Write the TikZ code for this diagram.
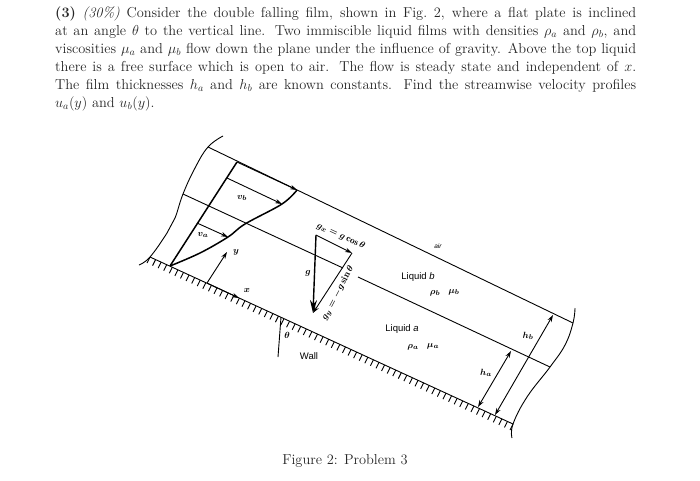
\documentclass[tikz,border=0pt]{standalone}
\usepackage{amsmath}
\usepackage{amssymb}
\usepackage{fontspec}
\usetikzlibrary{calc,arrows.meta}
\newfontfamily\figfont{Liberation Sans}
\tikzset{
  film/.style={line width=.9pt},
  thick film/.style={line width=1.5pt},
  vel/.style={line width=.9pt,-{Stealth[length=7pt,width=4.5pt]}},
  thick vel/.style={line width=1.4pt,-{Stealth[length=13pt,width=7pt]}},
  both vel/.style={line width=.9pt,{Stealth[length=7pt,width=4.5pt]}-{Stealth[length=7pt,width=4.5pt]}},
  lab/.style={font=\figfont\fontsize{9.5}{10}\selectfont,inner sep=0pt},
  greek/.style={font=\fontsize{9.5}{10}\selectfont\boldmath,inner sep=0pt},
}
\begin{document}
\begin{tikzpicture}[x=1pt,y=-1pt]
          \useasboundingbox (0,0) rectangle (700,480);
          \node[anchor=north west,inner sep=0pt,text width=581pt,align=justify,font=\fontsize{14.4}{18}\selectfont,text=black!85] (problem) at (55,6.5)
            {\textbf{(3)} \textit{(30\%)} Consider the double falling film, shown in Fig.~2, where a flat plate is inclined\linebreak
             at an angle $\theta$ to the vertical line. Two immiscible liquid films with densities $\rho_a$ and $\rho_b$, and\linebreak
             viscosities $\mu_a$ and $\mu_b$ flow down the plane under the influence of gravity. Above the top liquid\linebreak
             there is a free surface which is open to air. The flow is steady state and independent of $x$.\linebreak
             The film thicknesses $h_a$ and $h_b$ are known constants. Find the streamwise velocity profiles\linebreak
             $u_a(y)$ and $u_b(y)$.};

          \coordinate (wallA) at (150,257);
          \coordinate (wallB) at (513,424);
          \coordinate (topA) at (208,147);
          \coordinate (topB) at (573,323);
          \coordinate (midA) at (183,194);
          \coordinate (midB) at (343,268);
          \coordinate (midC) at (358,277);
          \coordinate (midD) at (550,367);

          % plate, films and cut ends
          \draw[film] (wallA) -- (wallB);
          \foreach \i in {0,...,65}
            \draw[line width=.9pt] ($(wallA)!\i/65!(wallB)$) -- ++(-3,6);
          \draw[film] (topA) -- (topB);
          \draw[film] (midA) -- (midB);
          \draw[film] (midC) -- (midD);
          \draw[film] plot[smooth,tension=.7] coordinates {(223,136) (208,147) (195,168) (183,194) (175,218) (167,233) (150,257) (139,265)};
          \draw[film] plot[smooth,tension=.7] coordinates {(575,308) (573,323) (565,345) (550,367) (527,397) (513,424) (512,438)};

          % velocity profile
          \coordinate (base) at (170,266);
          \coordinate (baseTop) at (237,162);
          \coordinate (tipA) at (228,237);
          \coordinate (tipB) at (282,204);
          \coordinate (tipTop) at (297,190);
          \coordinate (tailA) at (197,223);
          \coordinate (tailB) at (227,178);
          \draw[thick film] (base) -- (baseTop);
          \draw[thick film] plot[smooth,tension=.6] coordinates {(base) (200,253) (tipA) (245,224) (tipB) (tipTop)};
          \draw[vel] (tailA) -- (tipA);
          \draw[vel] (tailB) -- (tipB);
          \draw[vel] (baseTop) -- (tipTop);
          \node[greek] (va) at (203,235) {$v_a$};
          \node[greek] (vb) at (242,198) {$v_b$};

          % axes
          \coordinate (origin) at (207,283);
          \node[greek] (ylab) at (236,252) {$y$};
          \node[greek] (xlab) at (247,290) {$x$};
          \draw[vel] (origin) -- (227,252);
          \draw[vel] (origin) -- (239,298);

          % angle at the wall
          \coordinate (thetaA) at (281,317);
          \coordinate (thetaB) at (278,357);
          \draw[film] (thetaA) -- (thetaB);
          \node[greek] (thetalab) at (287,335) {$\theta$};
          \node[lab] (wall) at (309,356) {Wall};

          % gravity triangle
          \coordinate (gA) at (316,235);
          \coordinate (gB) at (352,253);
          \coordinate (gC) at (313,313);
          \draw[vel] (gA) -- (gB);
          \draw[vel] (gB) -- (gC);
          \draw[thick vel] (gA) -- (gC);
          \node[greek] (glab) at (308,273) {$g$};
          \node[greek,rotate=-25] (gx) at (341,236) {$g_x = g\cos\theta$};
          \node[greek,rotate=62] (gy) at (338,293) {$g_y = -g\sin\theta$};

          % liquids
          \node[lab] (air) at (438,246) {\fontsize{6.5}{7}\selectfont\textit{air}};
          \node[lab] (liqb) at (418,277) {Liquid \textit{b}};
          \node[greek] (rhob) at (435,293) {$\rho_b$};
          \node[greek] (mub) at (454,292) {$\mu_b$};
          \node[lab] (liqa) at (402,329) {Liquid \textit{a}};
          \node[greek] (rhoa) at (413,347) {$\rho_a$};
          \node[greek] (mua) at (433,346) {$\mu_a$};

          % thicknesses
          \coordinate (haA) at (478,407);
          \coordinate (haB) at (511,351);
          \coordinate (hbA) at (495,415);
          \coordinate (hbB) at (553,315);
          \draw[both vel] (haA) -- (haB);
          \draw[both vel] (hbA) -- (hbB);
          \node[greek] (halab) at (486,373) {$\boldsymbol{h}_a$};
          \node[greek] (hblab) at (528,336) {$\boldsymbol{h}_b$};

          \node[inner sep=0pt,font=\fontsize{14.4}{15}\selectfont,text=black!85] (caption) at (345,461) {Figure 2: Problem 3};
\end{tikzpicture}
\end{document}
